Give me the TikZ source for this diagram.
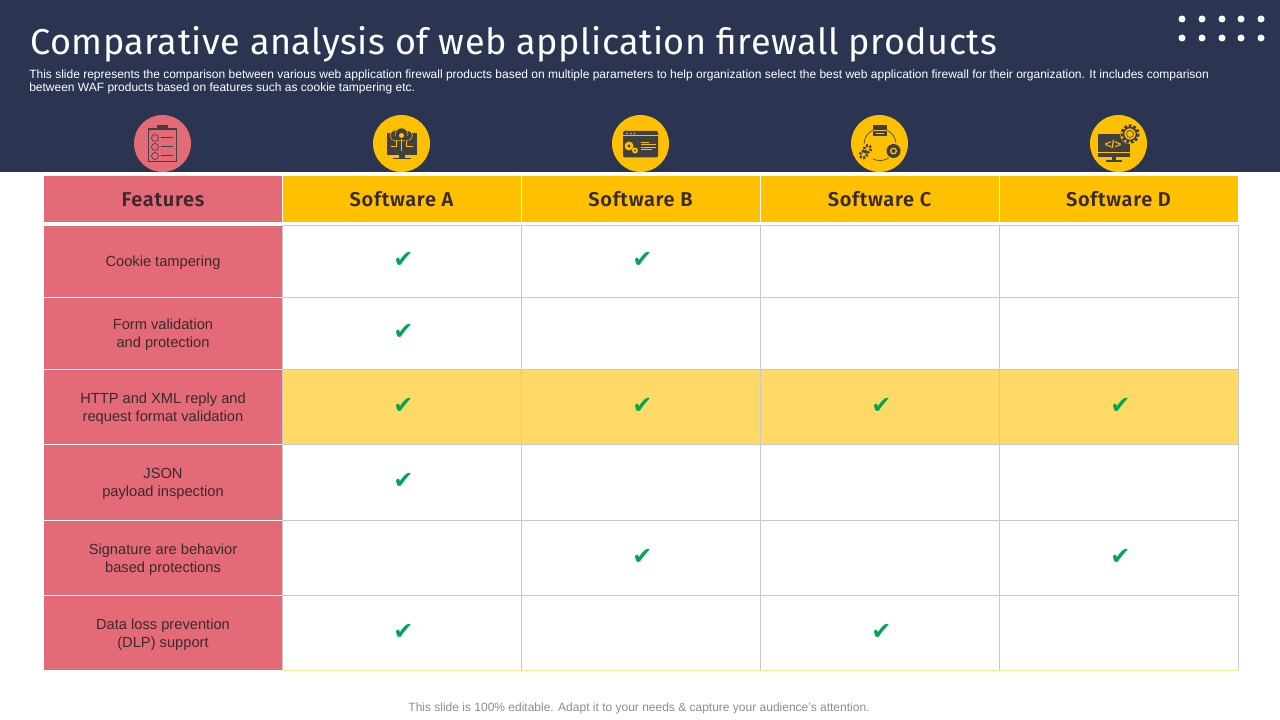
\documentclass[tikz,border=0pt]{standalone}
\usepackage{fontspec}
\setmainfont{Liberation Sans}
\newfontfamily\headfont[LetterSpace=1.45]{Fira Sans}
\newfontfamily\colfont[LetterSpace=3.5]{Fira Sans SemiBold}
\newfontfamily\markfont{DejaVu Sans}
\usetikzlibrary{positioning}
\definecolor{navy}{HTML}{2B3552}
\definecolor{rosered}{HTML}{E46A78}
\definecolor{amber}{HTML}{FFC000}
\definecolor{paleamber}{HTML}{FFD966}
\definecolor{gridgrey}{HTML}{C9C9C9}
\definecolor{inkdark}{HTML}{3A2A2E}
\definecolor{icondark}{HTML}{404040}
\definecolor{tickgreen}{HTML}{00A651}
\newcommand{\tick}{\markfont\fontsize{18}{18}\selectfont\hspace{2pt}\textcolor{tickgreen}{\raisebox{1.4pt}{\char"2714}}}
\newcommand{\topgap}{\rule{0pt}{11pt}}
\tikzset{
  head/.style={minimum width=238*0.75pt,minimum height=46*0.75pt,inner sep=0pt,text height=13pt,text depth=2.2pt,font=\colfont\fontsize{15}{15}\selectfont,text=inkdark},
  feat/.style={fill=rosered,draw=white,line width=0.6pt,minimum width=238.5*0.75pt,minimum height=#1*0.75pt,inner sep=0pt,align=center,font=\fontsize{11}{13.5}\selectfont,text=inkdark},
  cell/.style={fill=white,draw=gridgrey,line width=0.7pt,minimum width=239*0.75pt,minimum height=#1*0.75pt,inner sep=0pt},
  hot/.style={cell=#1,fill=paleamber},
  badge/.style={circle,minimum size=57*0.75pt,inner sep=0pt},
  dot/.style={circle,fill=white,minimum size=7*0.75pt,inner sep=0pt},
}
\begin{document}
\begin{tikzpicture}[x=0.75pt,y=-0.75pt]
\useasboundingbox (0,0) rectangle (1280,720);
\fill[navy] (0,0) rectangle (1280,172);
% title block
\node[anchor=base west,inner sep=0pt,text=white,font=\headfont\fontsize{27}{27}\selectfont] (title) at (30,54.5) {Comparative analysis of web application firewall products};
\node[anchor=north west,inner sep=0pt,text=white,align=left,font=\fontsize{9}{10.1}\selectfont] (sub) at (29,69.5) {This slide represents the comparison between various web application firewall products based on multiple parameters to help organization select the best web application firewall for their organization. It includes comparison\\between WAF  products based on features such as cookie tampering etc.};
% dots
\node[dot] (p1) at (1182,19) {};
\node[dot] (p2) at (1202,19) {};
\node[dot] (p3) at (1222,19) {};
\node[dot] (p4) at (1241,19) {};
\node[dot] (p5) at (1261,19) {};
\node[dot] (q1) at (1182,38) {};
\node[dot] (q2) at (1202,38) {};
\node[dot] (q3) at (1222,38) {};
\node[dot] (q4) at (1241,38) {};
\node[dot] (q5) at (1261,38) {};
% badges
\node[badge,fill=rosered] (bF) at (162.5,143.5) {};
\node[badge,fill=amber] (bA) at (401.5,143.5) {};
\node[badge,fill=amber] (bB) at (640.5,143.5) {};
\node[badge,fill=amber] (bC) at (879.5,143.5) {};
\node[badge,fill=amber] (bD) at (1118.5,143.5) {};
% clipboard
\begin{scope}[shift={(bF.center)},icondark]
\draw[line width=1.1pt] (-14,-14.5) rectangle (14,18);
\fill (-6,-18) rectangle (5,-13);
\foreach \y in {-5.5,3.5,12.5} {
  \draw[line width=0.5pt] (-7.5,\y) circle (3.5);
  \fill (-2,\y-1) rectangle (10,\y+0.5);
}
\end{scope}
% monitor with cloud
\begin{scope}[shift={(bA.center)}]
\fill[icondark] (-15,-10) rectangle (15,12);
\fill[icondark] (-3,12) rectangle (3,14.5);
\fill[icondark] (-9,14.5) rectangle (9,16);
\draw[amber,line width=0.4pt,fill=icondark] (-6,-8) circle (5.5);
\draw[amber,line width=0.4pt,fill=icondark] (6,-8) circle (5);
\draw[amber,line width=0.4pt,fill=icondark] (0,-9) circle (6.5);
\fill[icondark] (-7,-7) rectangle (7,-3);
\fill[amber] (0,-8) circle (2.5);
\draw[amber,line width=0.4pt] (0,-4) -- (0,8) (-5,-2) -- (-5,3) -- (-11,3) (5,-2) -- (5,3) -- (11,3);
\end{scope}
% browser window with gears
\begin{scope}[shift={(bB.center)}]
\fill[icondark,rounded corners=1pt] (-17.5,-12.5) rectangle (17.5,14);
\draw[amber,line width=0.4pt] (-17.5,-8) -- (17.5,-8);
\fill[amber] (-13.5,-10) circle (0.9) (-9.5,-10) circle (0.9) (-6,-10) circle (0.9);
\fill[amber] (-11.5,2.5) circle (4.5) (-5.5,7) circle (3);
\fill[icondark] (-11.5,2.5) circle (1.7) (-5.5,7) circle (1);
\draw[amber,line width=0.5pt] (0,-1.5) -- (8,-1.5) (0,0.8) -- (15.5,0.8) (0,3.5) -- (15.5,3.5) (0,6) -- (11,6);
\end{scope}
% cycle of screen, gears and disc
\begin{scope}[shift={(bC.center)}]
\draw[icondark,line width=0.5pt] (0.5,1) circle (16);
\fill[icondark] (-7,-18) rectangle (7,-7);
\draw[amber,line width=0.4pt] (-7,-13.5) -- (7,-13.5) (-4,-10) -- (4,-10);
\fill[amber] (-13,9) circle (9) (14,7.5) circle (8.5);
\draw[icondark,line width=2pt,dash pattern=on 1.5pt off 1.2pt] (-12,5.5) circle (3.5);
\draw[icondark,line width=2pt,dash pattern=on 1.5pt off 1.2pt] (-16,11) circle (3.5);
\fill[icondark] (14,7.5) circle (7);
\fill[amber] (14,7.5) circle (3.5);
\fill[icondark] (14,7.5) circle (2);
\end{scope}
% monitor with code
\begin{scope}[shift={(bD.center)}]
\fill[icondark] (-21,-9) rectangle (11.5,14);
\fill[amber] (-21,9) rectangle (11.5,9.6);
\fill[icondark] (-7,14) rectangle (-3,17);
\fill[icondark] (-13,17) rectangle (3,18.5);
\node[text=amber,inner sep=0pt,font=\bfseries\fontsize{8.5}{8.5}\selectfont] (code) at (-5.5,1) {</>};
\fill[amber] (11.5,-9.5) circle (10);
\draw[icondark,line width=2.4pt,dash pattern=on 2pt off 1.4pt] (11.5,-9.5) circle (8);
\draw[icondark,line width=1.2pt] (11.5,-9.5) circle (6.5);
\draw[icondark,line width=0.5pt] (11.5,-9.5) circle (3.5);
\end{scope}
% header row
\node[head,fill=rosered] (hF) at (163,199) {Features};
\node[head,fill=amber] (hA) at (401.5,199) {Software A};
\node[head,fill=amber] (hB) at (640.5,199) {Software B};
\node[head,fill=amber] (hC) at (879.5,199) {Software C};
\node[head,fill=amber] (hD) at (1118.5,199) {Software D};
% feature column
\node[feat=72] (f1) at (163,261) {\topgap Cookie tampering};
\node[feat=72] (f2) at (163,333) {\topgap Form validation\\and protection};
\node[feat=75] (f3) at (163,406.5) {\topgap HTTP and XML reply and\\request format validation};
\node[feat=76] (f4) at (163,482) {\topgap JSON\\payload inspection};
\node[feat=75] (f5) at (163,557.5) {\topgap Signature are behavior\\based protections};
\node[feat=75] (f6) at (163,632.5) {\topgap Data loss prevention\\(DLP) support};
% rows
\node[cell=72] (a1) at (402,261) {\tick};
\node[cell=72] (b1) at (641,261) {\tick};
\node[cell=72] (c1) at (880,261) {};
\node[cell=72] (d1) at (1119,261) {};
\node[cell=72] (a2) at (402,333) {\tick};
\node[cell=72] (b2) at (641,333) {};
\node[cell=72] (c2) at (880,333) {};
\node[cell=72] (d2) at (1119,333) {};
\node[hot=75] (a3) at (402,406.5) {\tick};
\node[hot=75] (b3) at (641,406.5) {\tick};
\node[hot=75] (c3) at (880,406.5) {\tick};
\node[hot=75] (d3) at (1119,406.5) {\tick};
\node[cell=76] (a4) at (402,482) {\tick};
\node[cell=76] (b4) at (641,482) {};
\node[cell=76] (c4) at (880,482) {};
\node[cell=76] (d4) at (1119,482) {};
\node[cell=75] (a5) at (402,557.5) {};
\node[cell=75] (b5) at (641,557.5) {\tick};
\node[cell=75] (c5) at (880,557.5) {};
\node[cell=75] (d5) at (1119,557.5) {\tick};
\node[cell=75] (a6) at (402,632.5) {\tick};
\node[cell=75] (b6) at (641,632.5) {};
\node[cell=75] (c6) at (880,632.5) {\tick};
\node[cell=75] (d6) at (1119,632.5) {};
\draw[paleamber!70,line width=1.2pt] (a6.south west) -- (d6.south east);
% note
\node[text=gray!90,inner sep=0pt,font=\fontsize{9}{9}\selectfont] (note) at (639,708) {This slide is 100\% editable. Adapt it to your needs \& capture your audience’s attention.};
\end{tikzpicture}
\end{document}
